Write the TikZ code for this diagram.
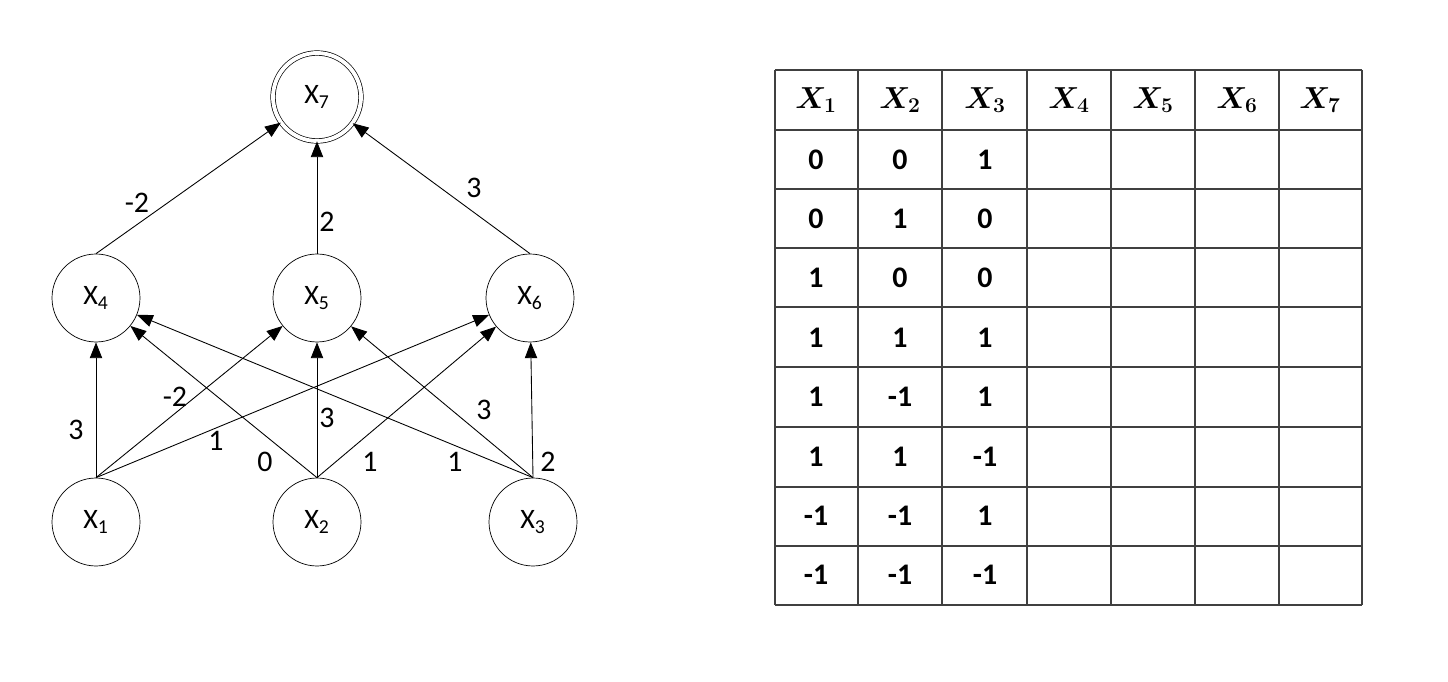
\documentclass[tikz,border=0pt]{standalone}
\usepackage{amsmath,amssymb}
\usepackage{fontspec}
\setmainfont{Carlito}
\usetikzlibrary{arrows.meta}
\begin{document}
\begin{tikzpicture}[x=0.02cm,y=-0.02cm,
  neuron/.style={draw,circle,minimum size=1.76cm,inner sep=0pt,font=\fontsize{16}{16}\selectfont},
  edge/.style={-{Triangle[length=9pt,width=7pt]},line width=0.5pt},
  lbl/.style={font=\fontsize{17}{17}\selectfont},
  cell/.style={font=\bfseries\fontsize{17}{17}\selectfont}]
\useasboundingbox (0,0) rectangle (1448,682);
% network
\node[neuron] (x1) at (96,522) {X\textsubscript{1}};
\node[neuron] (x2) at (317,522) {X\textsubscript{2}};
\node[neuron] (x3) at (533,522) {X\textsubscript{3}};
\node[neuron] (x4) at (96,298) {X\textsubscript{4}};
\node[neuron] (x5) at (317,298) {X\textsubscript{5}};
\node[neuron] (x6) at (530,298) {X\textsubscript{6}};
\node[neuron,double,double distance=2.2pt] (x7) at (317,97) {X\textsubscript{7}};
\foreach \s in {x1,x2,x3}
  \foreach \t in {x4,x5,x6}
    \draw[edge] (\s.north) -- (\t);
\foreach \s in {x4,x5,x6}
  \draw[edge] (\s.north) -- (x7);
% weights
\foreach \p/\w in {{76,430}/3,{175,397}/-2,{216,441}/1,{265,462}/0,{327,418}/3,
  {370,462}/1,{455,462}/1,{484,410}/3,{548,462}/2,{137,203}/-2,{327,222}/2,{474,188}/3}
  \node[lbl] at (\p) {\w};
% table
\foreach \x in {775,858,942,1027,1111,1195,1279,1362}
  \draw[line width=0.6pt,black!75] (\x,70) -- (\x,605);
\foreach \y in {70,130,189,248,307,367,427,487,546,605}
  \draw[line width=0.6pt,black!75] (775,\y) -- (1362,\y);
\foreach \i/\x in {1/816,2/900,3/985,4/1069,5/1153,6/1237,7/1320}
  \node[font=\fontsize{17}{17}\selectfont] at (\x,100) {$\boldsymbol{X_{\i}}$};
\foreach \a/\b/\c [count=\r] in {0/0/1,0/1/0,1/0/0,1/1/1,1/-1/1,1/1/-1,-1/-1/1,-1/-1/-1}{
  \pgfmathsetmacro{\yy}{100+59.4*\r}
  \node[cell] at (816,\yy) {\a};
  \node[cell] at (900,\yy) {\b};
  \node[cell] at (985,\yy) {\c};
}
\end{tikzpicture}
\end{document}
